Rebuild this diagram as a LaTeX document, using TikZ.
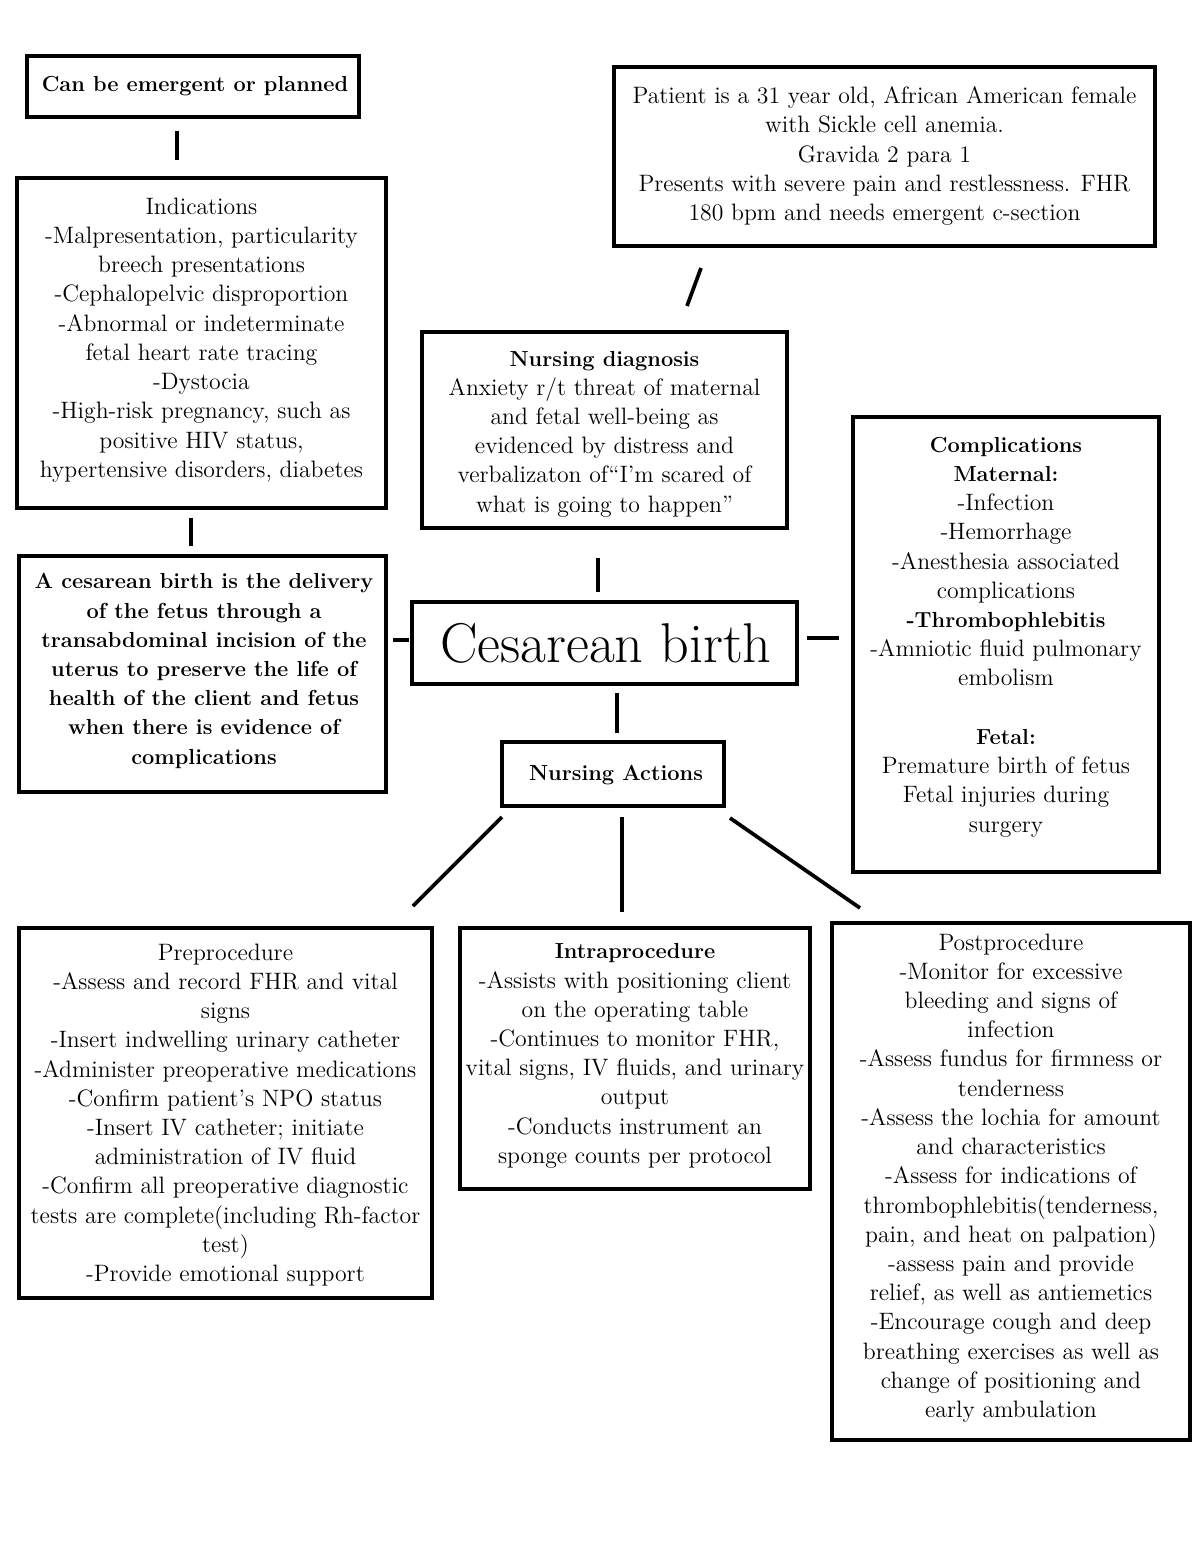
\documentclass[tikz,border=0pt]{standalone}
\newdimen\pxu \pxu=0.51pt
\newcommand\bx[1]{{\fontsize{11.1}{14.9}\selectfont\bfseries #1}}
\begin{document}
\begin{tikzpicture}[x=0.51pt,y=-0.51pt,
  box/.style={draw=black,line width=1.9pt,rectangle,inner sep=0pt,fill=none},
  txt/.style={align=center,inner sep=0pt,font=\fontsize{12.1}{14.9}\selectfont},
  conn/.style={line width=1.9pt}]
\useasboundingbox[fill=white] (0,0) rectangle (1200,1549);
% boxes
\node[box,minimum width=332*\pxu,minimum height=61*\pxu] (can) at (193,86.5) {};
\node[box,minimum width=369*\pxu,minimum height=330*\pxu] (ind) at (201.5,343) {};
\node[box,minimum width=367*\pxu,minimum height=236*\pxu] (def) at (202.5,674) {};
\node[box,minimum width=385*\pxu,minimum height=82*\pxu] (cen) at (604.5,643) {};
\node[box,minimum width=541*\pxu,minimum height=179*\pxu] (pat) at (884.5,156.5) {};
\node[box,minimum width=365*\pxu,minimum height=196*\pxu] (nd) at (604.5,430) {};
\node[box,minimum width=306*\pxu,minimum height=455*\pxu] (comp) at (1006,644.5) {};
\node[box,minimum width=222*\pxu,minimum height=64*\pxu] (na) at (613,774) {};
\node[box,minimum width=413*\pxu,minimum height=370*\pxu] (pre) at (225.5,1113) {};
\node[box,minimum width=350*\pxu,minimum height=261*\pxu] (intra) at (635,1058.5) {};
\node[box,minimum width=358*\pxu,minimum height=517*\pxu] (post) at (1011,1181.5) {};
% texts
\node[txt] (cant) at (195,86) {\bx{Can be emergent or planned}};
\node[txt] (indt) at (201.5,340) {Indications\\-Malpresentation, particularity\\breech presentations\\-Cephalopelvic disproportion\\-Abnormal or indeterminate\\fetal heart rate tracing\\-Dystocia\\-High-risk pregnancy, such as\\positive HIV status,\\hypertensive disorders, diabetes};
\node[txt,font=\fontsize{11.1}{14.9}\selectfont\bfseries] (deft) at (204,671) {A cesarean birth is the delivery\\of the fetus through a\\transabdominal incision of the\\uterus to preserve the life of\\health of the client and fetus\\when there is evidence of\\complications};
\node[inner sep=0pt,font=\fontsize{28.6}{32}\selectfont] (cent) at (606,643) {Cesarean birth};
\node[txt] (patt) at (884.5,156) {Patient is a 31 year old, African American female\\with Sickle cell anemia.\\Gravida 2 para 1\\Presents with severe pain and restlessness. FHR\\180 bpm and needs emergent c-section};
\node[txt] (ndt) at (604.5,434) {\bx{Nursing diagnosis}\\Anxiety r/t threat of maternal\\and fetal well-being as\\evidenced by distress and\\verbalizaton of``I'm scared of\\what is going to happen''};
\node[txt] (compt) at (1006,637) {\bx{Complications}\\\bx{Maternal:}\\-Infection\\-Hemorrhage\\-Anesthesia associated\\complications\\\bx{-Thrombophlebitis}\\-Amniotic fluid pulmonary\\embolism\\[14.9pt]\bx{Fetal:}\\Premature birth of fetus\\Fetal injuries during\\surgery};
\node[txt] (nat) at (616,775) {\bx{Nursing Actions}};
\node[txt] (pret) at (225.5,1115) {Preprocedure\\-Assess and record FHR and vital\\signs\\-Insert indwelling urinary catheter\\-Administer preoperative medications\\-Confirm patient's NPO status\\-Insert IV catheter; initiate\\administration of IV fluid\\-Confirm all preoperative diagnostic\\tests are complete(including Rh-factor\\test)\\-Provide emotional support};
\node[txt] (intrat) at (635,1056) {\bx{Intraprocedure}\\-Assists with positioning client\\on the operating table\\-Continues to monitor FHR,\\vital signs, IV fluids, and urinary\\output\\-Conducts instrument an\\sponge counts per protocol};
\node[txt] (postt) at (1011,1178) {Postprocedure\\-Monitor for excessive\\bleeding and signs of\\infection\\-Assess fundus for firmness or\\tenderness\\-Assess the lochia for amount\\and characteristics\\-Assess for indications of\\thrombophlebitis(tenderness,\\pain, and heat on palpation)\\-assess pain and provide\\relief, as well as antiemetics\\-Encourage cough and deep\\breathing exercises as well as\\change of positioning and\\early ambulation};
% connector end points
\coordinate (c1a) at (177,131); \coordinate (c1b) at (177,160);
\coordinate (c2a) at (191,518); \coordinate (c2b) at (191,546);
\coordinate (c3a) at (393,640); \coordinate (c3b) at (409,640);
\coordinate (c4a) at (598,558); \coordinate (c4b) at (598,592);
\coordinate (c5a) at (807,638); \coordinate (c5b) at (839,638);
\coordinate (c6a) at (617,693); \coordinate (c6b) at (617,733);
\coordinate (c7a) at (502,817); \coordinate (c7b) at (413,906);
\coordinate (c8a) at (622,817); \coordinate (c8b) at (622,912);
\coordinate (c9a) at (730,818); \coordinate (c9b) at (860,908);
\coordinate (c10a) at (701,268); \coordinate (c10b) at (687,306);
\draw[conn] (c1a) -- (c1b);
\draw[conn] (c2a) -- (c2b);
\draw[conn] (c3a) -- (c3b);
\draw[conn] (c4a) -- (c4b);
\draw[conn] (c5a) -- (c5b);
\draw[conn] (c6a) -- (c6b);
\draw[conn] (c7a) -- (c7b);
\draw[conn] (c8a) -- (c8b);
\draw[conn] (c9a) -- (c9b);
\draw[conn] (c10a) -- (c10b);
\end{tikzpicture}
\end{document}
